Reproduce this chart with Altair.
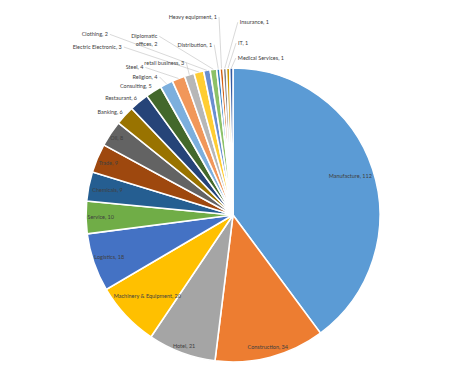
import altair as alt
import pandas as pd

# ---- data ----
categories = ["Manufacture", "Construction", "Hotel", "Machinery & Equipment", "Logistics",
              "Service", "Chemicals", "Trade", "Oil", "Banking", "Restaurant", "Consulting",
              "Religion", "Steel", "retail business", "Electric Electronic", "Clothing",
              "Diplomatic offices", "Distribution", "Heavy equipment", "Insurance", "IT",
              "Medical Services"]
values = [112, 34, 21, 20, 18, 10, 9, 9, 8, 6, 6, 5, 4, 4, 3, 3, 2, 2, 1, 1, 1, 1, 1]
colors = ["#5B9BD5", "#ED7D31", "#A5A5A5", "#FFC000", "#4472C4", "#70AD47", "#255E91",
          "#9E480E", "#636363", "#997300", "#264478", "#43682B", "#7CAFDD", "#F1975A",
          "#B7B7B7", "#FFCD33", "#698ED0", "#8CC168", "#327DC2", "#D26012", "#848484",
          "#CC9A00", "#335AA1"]

# ---- label layout (style, not data) ----
# mode: in = inside the slice, L = outside right-aligned, R = outside left-aligned
label_mode = ["in"] * 9 + ["L"] * 11 + ["R"] * 3
inside_frac = [0.84, 0.93, 0.95, 0.80, 0.89, 0.90, 0.87, 0.92, 0.95] + [0] * 14
# offsets from slice edge point to label anchor (px)
off_dx = [0] * 9 + [-2, -2, -2, -9, -35, -5, -77, -99, -56, -6, -4.5, 15, 10, 6.5]
off_dy = [0] * 9 + [-4, -4, -5, -7, -11, -12, -25, -36, -33, -24, -51.5, -46, -25, -10]
has_line = [0] * 12 + [1] * 11

CX, CY, R = 225, 207, 147

labels = [f"{c}, {v}" for c, v in zip(categories, values)]
labels[categories.index("Diplomatic offices")] = "Diplomatic\noffices, 2"

df = pd.DataFrame({
    "category": categories, "value": values, "idx": list(range(len(categories))),
    "label": labels, "mode": label_mode, "fr": inside_frac,
    "odx": off_dx, "ody": off_dy, "line": has_line,
})

pie = alt.Chart(df).mark_arc(radius=R, stroke="white", strokeWidth=1.6).encode(
    theta=alt.Theta("value:Q", stack=True),
    color=alt.Color("category:N", scale=alt.Scale(domain=categories, range=colors), legend=None),
    order=alt.Order("idx:Q"),
    x=alt.value(CX), y=alt.value(CY),
)

base = alt.Chart(df).transform_joinaggregate(
    total="sum(value)"
).transform_window(
    cum="sum(value)", sort=[alt.SortField("idx")], frame=[None, 0]
).transform_calculate(
    mid="(datum.cum - datum.value/2) / datum.total * 2 * PI"
).transform_calculate(
    ex=f"{CX} + {R} * sin(datum.mid)",
    ey=f"{CY} - {R} * cos(datum.mid)",
    ix=f"{CX} + datum.fr * {R} * sin(datum.mid)",
    iy=f"{CY} - datum.fr * {R} * cos(datum.mid)",
).transform_calculate(
    lx="datum.mode == 'in' ? datum.ix : datum.ex + datum.odx",
    ly="datum.mode == 'in' ? datum.iy : datum.ey + datum.ody",
    tx="datum.mode == 'L' ? datum.ex + datum.odx + 2 : datum.ex + datum.odx - 2",
)

txt_kw = dict(fontSize=5.5, font="Lato", color="#404040", baseline="middle", lineBreak="\n")
enc = dict(x=alt.X("lx:Q", scale=None, axis=None), y=alt.Y("ly:Q", scale=None, axis=None),
           text="label:N")

lines = base.transform_filter("datum.line == 1").mark_rule(
    color="#BFBFBF", strokeWidth=0.6
).encode(
    x=alt.X("ex:Q", scale=None, axis=None), y=alt.Y("ey:Q", scale=None, axis=None),
    x2="tx:Q", y2="ly:Q",
)

t_in = base.transform_filter("datum.mode == 'in'").mark_text(align="center", **txt_kw).encode(**enc)
t_l = base.transform_filter("datum.mode == 'L'").mark_text(align="right", **txt_kw).encode(**enc)
t_r = base.transform_filter("datum.mode == 'R'").mark_text(align="left", **txt_kw).encode(**enc)

chart = alt.layer(pie, lines, t_in, t_l, t_r).properties(
    width=458, height=366, autosize=alt.AutoSizeParams(type="none"), padding=0
).configure_view(stroke=None)

chart.save("out.html", embed_options={"renderer": "svg", "actions": False})
